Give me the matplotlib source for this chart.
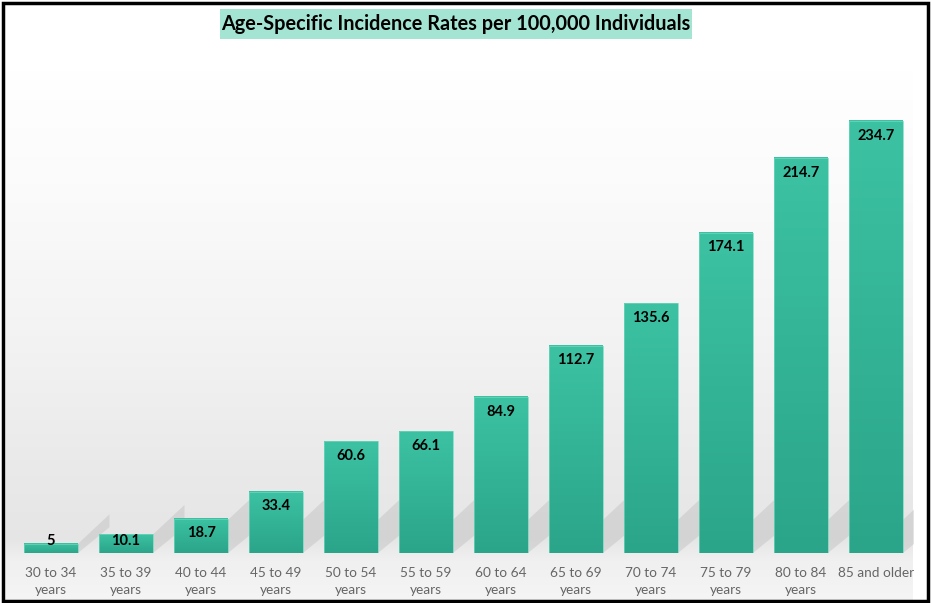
import numpy as np
import matplotlib
matplotlib.use("Agg")
import matplotlib.pyplot as plt
from matplotlib.patches import Rectangle, Polygon
from matplotlib.colors import LinearSegmentedColormap

categories = ["30 to 34\nyears", "35 to 39\nyears", "40 to 44\nyears", "45 to 49\nyears",
              "50 to 54\nyears", "55 to 59\nyears", "60 to 64\nyears", "65 to 69\nyears",
              "70 to 74\nyears", "75 to 79\nyears", "80 to 84\nyears", "85 and older"]
values = [5, 10.1, 18.7, 33.4, 60.6, 66.1, 84.9, 112.7, 135.6, 174.1, 214.7, 234.7]
value_labels = ["5", "10.1", "18.7", "33.4", "60.6", "66.1", "84.9", "112.7", "135.6", "174.1", "214.7", "234.7"]
title = "Age-Specific Incidence Rates per 100,000 Individuals"

W, H = 931, 603
fig = plt.figure(figsize=(W / 100, H / 100), dpi=100)
fig.patch.set_facecolor("white")

# plot-area background gradient (pixel coords)
bg = fig.add_axes([0, 0, 1, 1], zorder=0)
bg.set_axis_off()
ys = np.linspace(70, 600, 300)
stops_y = [70, 180, 350, 470, 540, 560, 600]
stops_c = [1.0, 0.985, 0.95, 0.915, 0.90, 0.94, 0.96]
cols = np.interp(ys, stops_y, stops_c)
img = np.repeat(cols[:, None, None], 2, axis=1).repeat(3, axis=2)
bg.imshow(img, aspect="auto", extent=[6, 913, 600, 70], origin="upper")
bg.add_patch(Rectangle((220, 9), 472, 30, facecolor="#a4e4d3", edgecolor="none"))
bg.set_xlim(0, W)
bg.set_ylim(H, 0)

# axes
left_px, right_px = 13.5, 913.5
bottom_px, top_px = 553, 56
ax = fig.add_axes([left_px / W, 1 - bottom_px / H, (right_px - left_px) / W, (bottom_px - top_px) / H], zorder=2)
ax.patch.set_alpha(0)
x = np.arange(len(values))

bw = 0.72
cmap = LinearSegmentedColormap.from_list("t", ["#3cc2a3", "#2ba58a"])
for xi, v in zip(x, values):
    xr = xi + bw / 2
    h0 = min(v, 18)
    sh = Polygon([[xr, 0], [xr, h0], [xr + 0.42, h0 + 16], [xr + 0.42, 14]], closed=True,
                 facecolor="#b8b8b8", edgecolor="none", alpha=0.38, zorder=1)
    ax.add_patch(sh)
    ax.imshow(np.linspace(0, 1, 100)[:, None], cmap=cmap, aspect="auto",
              extent=[xi - bw / 2, xi + bw / 2, 0, v], origin="upper", zorder=2)
ax.set_xlim(-0.5, len(values) - 0.5)
ax.set_ylim(0, 270)
ax.bar(x, values, width=bw, color="none", edgecolor="#6fd8bd", linewidth=0.5, zorder=3)

for xi, v, lab in zip(x, values, value_labels):
    ax.text(xi, max(v - 8.1, 6.5), lab, ha="center", va="center", fontsize=10.5, fontweight="bold",
            family="Lato", color="black", zorder=4)

ax.set_xticks(x)
ax.set_xticklabels(categories, fontsize=9.8, color="#666666", family="Lato", linespacing=1.5)
ax.tick_params(axis="x", length=0, pad=10)
ax.set_yticks([])
for s in ax.spines.values():
    s.set_visible(False)

fig.text(456 / W, 1 - 24.5 / H, title, ha="center", va="center", fontsize=14.3, fontweight="bold",
         family="Lato", color="black", zorder=5)

fig.patches.append(Rectangle((2.5 / W, 2.5 / H), (W - 5.5) / W, (H - 5) / H, transform=fig.transFigure,
                             fill=False, edgecolor="black", linewidth=2.5, zorder=10))

fig.savefig("out.png", dpi=100)
